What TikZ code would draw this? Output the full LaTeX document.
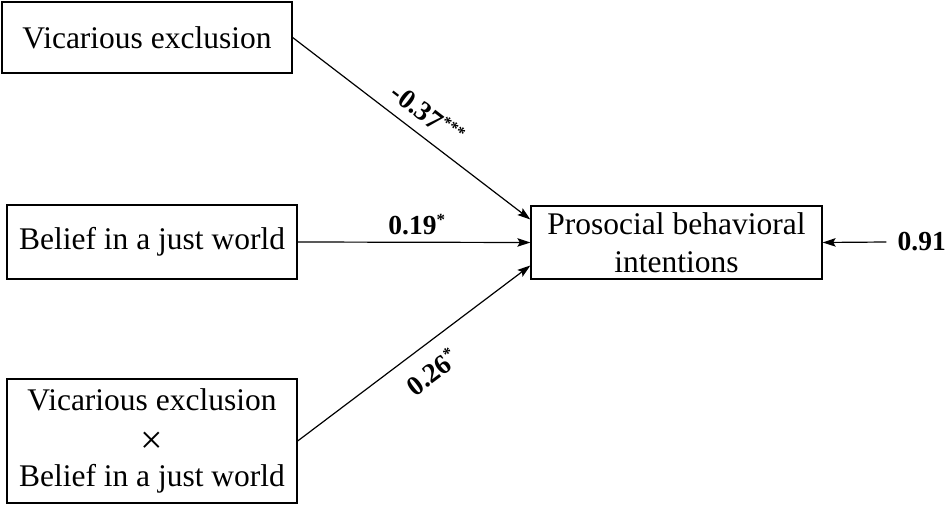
\documentclass[tikz,border=0pt]{standalone}
\usepackage{fontspec}
\setmainfont{Liberation Serif}
\usetikzlibrary{arrows.meta}
\begin{document}
\begin{tikzpicture}[x=1pt,y=-1pt,
  box/.style={draw, line width=1.3pt, minimum width=290pt, inner sep=0pt, align=center, font=\fontsize{31.5}{38}\selectfont},
  conn/.style={line width=1.2pt, -{Stealth[length=13pt,width=8.5pt,inset=2.5pt]}},
  coef/.style={font=\fontsize{27.5}{30}\selectfont\bfseries, inner sep=0pt}]
\useasboundingbox (0,0) rectangle (950,505);
\node[box, minimum height=71pt] (a) at (147,37.5) {Vicarious exclusion};
\node[box, minimum height=74pt] (b) at (152,242) {Belief in a just world};
\node[box, minimum height=124pt] (c) at (152,441) {Vicarious exclusion\\\raisebox{-5pt}{\fontsize{40}{38}\selectfont ×}\\Belief in a just world};
\node[box, minimum width=291pt, minimum height=73pt] (p) at (676.5,242.5) {Prosocial behavioral\\intentions};
\node[coef, anchor=east] (e) at (946,242) {0.91};
\draw[conn] (a.east) -- ([yshift=23pt]p.west);
\draw[conn] (b.east) -- (p.west);
\draw[conn] (c.east) -- ([yshift=-23pt]p.west);
\draw[conn] ([xshift=-11pt]e.west) -- (p.east);
\node[coef, rotate=-37.6] (l1) at (428,114) {-0.37\textsuperscript{\fontsize{17}{17}\selectfont***}};
\node[coef] (l2) at (417,225) {0.19\textsuperscript{\fontsize{17}{17}\selectfont*}};
\node[coef, rotate=36.9] (l3) at (432,372) {0.26\textsuperscript{\fontsize{17}{17}\selectfont*}};
\end{tikzpicture}
\end{document}
